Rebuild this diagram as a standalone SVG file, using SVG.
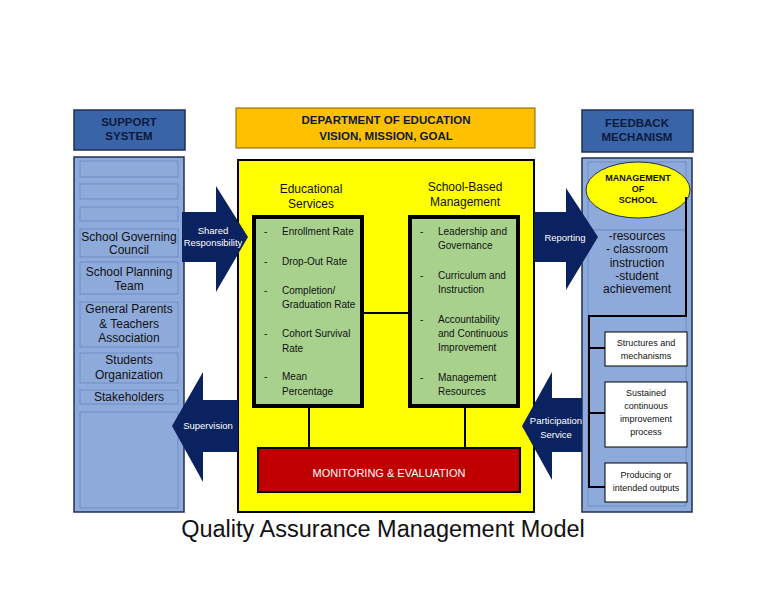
<svg xmlns="http://www.w3.org/2000/svg" width="768" height="594" viewBox="0 0 768 594">
<style>
text{font-family:"Liberation Sans",Arial,sans-serif}
.hdr{fill:#3a64a8;stroke:#1f2f55;stroke-width:1.5}
.hdt{font-weight:bold;font-size:11.5px;fill:#0b1a3c;text-anchor:middle}
.pan{fill:#8eaadb;stroke:#1f2f55;stroke-width:1.5}
.row{fill:#8eaadb;stroke:#6f8dc4;stroke-width:1}
.rt{font-size:12px;fill:#111;text-anchor:middle}
.arr{fill:#0b2260}
.at{font-size:9.5px;fill:#fff;text-anchor:middle}
.grn{fill:#a9d18e;stroke:#000;stroke-width:4}
.gt{font-size:10px;fill:#111}
.wb{fill:#fff;stroke:#000;stroke-width:1}
.wt{font-size:9px;fill:#111;text-anchor:middle}
.ln{stroke:#000;stroke-width:2;fill:none}
</style>
<rect width="768" height="594" fill="#fff"/>
<g id="support">
<rect class="hdr" x="74" y="110" width="111" height="40"/>
<text class="hdt" x="129" y="126">SUPPORT</text><text class="hdt" x="129" y="140">SYSTEM</text>
<rect class="pan" x="74" y="157" width="110" height="355"/>
<rect class="row" x="80" y="161" width="98" height="16"/>
<rect class="row" x="80" y="184" width="98" height="15"/>
<rect class="row" x="80" y="207" width="98" height="14"/>
<rect class="row" x="80" y="229" width="98" height="28"/>
<text class="rt" x="129" y="241">School Governing</text><text class="rt" x="129" y="254">Council</text>
<rect class="row" x="80" y="262" width="98" height="32"/>
<text class="rt" x="129" y="276">School Planning</text><text class="rt" x="129" y="290">Team</text>
<rect class="row" x="80" y="302" width="98" height="45"/>
<text class="rt" x="129" y="313">General Parents</text><text class="rt" x="129" y="328">&amp; Teachers</text><text class="rt" x="129" y="342">Association</text>
<rect class="row" x="80" y="353" width="98" height="30"/>
<text class="rt" x="129" y="364">Students</text><text class="rt" x="129" y="379">Organization</text>
<rect class="row" x="80" y="390" width="98" height="14"/>
<text class="rt" x="129" y="401">Stakeholders</text>
<rect class="row" x="80" y="412" width="98" height="96"/>
</g>
<g id="doe">
<rect x="236" y="108" width="299" height="40" fill="#ffc000" stroke="#7f6000" stroke-width="1"/>
<text class="hdt" x="386" y="124" font-size="12">DEPARTMENT OF EDUCATION</text>
<text class="hdt" x="386" y="140" font-size="12">VISION, MISSION, GOAL</text>
</g>
<g id="center">
<rect x="238" y="160" width="296" height="352" fill="#ffff00" stroke="#000" stroke-width="2"/>
<text x="311" y="193" font-size="12" text-anchor="middle" fill="#111">Educational</text>
<text x="311" y="208" font-size="12" text-anchor="middle" fill="#111">Services</text>
<text x="465" y="191" font-size="12" text-anchor="middle" fill="#111">School-Based</text>
<text x="465" y="206" font-size="12" text-anchor="middle" fill="#111">Management</text>
</g>
<g id="feedback">
<rect class="hdr" x="582" y="110" width="111" height="42"/>
<text class="hdt" x="637" y="127">FEEDBACK</text><text class="hdt" x="637" y="141">MECHANISM</text>
<rect class="pan" x="582" y="158" width="110" height="354"/>
<rect class="row" x="588" y="162" width="98" height="68"/>
<rect class="row" x="588" y="230" width="98" height="276"/>
<ellipse cx="638" cy="190" rx="52" ry="28" fill="#ffff00" stroke="#1f2f55" stroke-width="1"/>
<text class="wt" x="638" y="181" font-size="8" font-weight="bold">MANAGEMENT</text>
<text class="wt" x="638" y="192" font-size="8" font-weight="bold">OF</text>
<text class="wt" x="638" y="203" font-size="8" font-weight="bold">SCHOOL</text>
<g class="rt"><text x="637" y="240">-resources</text><text x="637" y="253">- classroom</text><text x="637" y="267">instruction</text><text x="637" y="280">-student</text><text x="637" y="293">achievement</text></g>
</g>
<g id="connectors">
<line class="ln" x1="362" y1="313" x2="410" y2="313" stroke-width="4"/>
<line class="ln" x1="309" y1="406" x2="309" y2="448"/>
<line class="ln" x1="465" y1="406" x2="465" y2="448"/>
<polyline class="ln" points="686,197 686,316 589,316 589,488"/>
<line class="ln" x1="589" y1="348" x2="605" y2="348"/>
<line class="ln" x1="589" y1="413" x2="605" y2="413"/>
<line class="ln" x1="589" y1="487" x2="605" y2="487"/>
</g>
<g id="structures">
<rect class="wb" x="605" y="332" width="82" height="34"/>
<text class="wt" x="646" y="346">Structures and</text><text class="wt" x="646" y="359">mechanisms</text>
</g>
<g id="sustained">
<rect class="wb" x="605" y="382" width="82" height="65"/>
<text class="wt" x="646" y="396">Sustained</text><text class="wt" x="646" y="409">continuous</text><text class="wt" x="646" y="422">improvement</text><text class="wt" x="646" y="435">process</text>
</g>
<g id="producing">
<rect class="wb" x="605" y="463" width="82" height="39"/>
<text class="wt" x="646" y="478">Producing or</text><text class="wt" x="646" y="491">intended outputs</text>
</g>
<g id="educational-services">
<rect class="grn" x="254" y="217" width="108" height="189"/>
<g class="gt"><text x="264" y="235">-</text><text x="282" y="235">Enrollment Rate</text>
<text x="264" y="265">-</text><text x="282" y="265">Drop-Out Rate</text>
<text x="264" y="294">-</text><text x="282" y="294">Completion/</text><text x="282" y="308">Graduation Rate</text>
<text x="264" y="337">-</text><text x="282" y="337">Cohort Survival</text><text x="282" y="352">Rate</text>
<text x="264" y="380">-</text><text x="282" y="380">Mean</text><text x="282" y="395">Percentage</text></g>
</g>
<g id="school-based-management">
<rect class="grn" x="410" y="217" width="108" height="189"/>
<g class="gt"><text x="420" y="235">-</text><text x="438" y="235">Leadership and</text><text x="438" y="249">Governance</text>
<text x="420" y="279">-</text><text x="438" y="279">Curriculum and</text><text x="438" y="293">Instruction</text>
<text x="420" y="323">-</text><text x="438" y="323">Accountability</text><text x="438" y="337">and Continuous</text><text x="438" y="351">Improvement</text>
<text x="420" y="381">-</text><text x="438" y="381">Management</text><text x="438" y="395">Resources</text></g>
</g>
<g id="monitoring">
<rect x="258" y="448" width="262" height="44" fill="#c00000" stroke="#000" stroke-width="2"/>
<text x="389" y="477" font-size="11" fill="#fff" text-anchor="middle">MONITORING &amp; EVALUATION</text>
</g>
<g id="shared">
<polygon class="arr" points="182,212 216,212 216,186 248,237 216,292 216,262 182,262"/>
<text class="at" x="213" y="234">Shared</text><text class="at" x="213" y="246">Responsibility</text>
</g>
<g id="supervision">
<polygon class="arr" points="238,400 203,400 203,372 172,426 203,482 203,452 238,452"/>
<text class="at" x="208" y="429">Supervision</text>
</g>
<g id="reporting">
<polygon class="arr" points="534,212 566,212 566,188 598,237 566,290 566,262 534,262"/>
<text class="at" x="565" y="241">Reporting</text>
</g>
<g id="participation">
<polygon class="arr" points="582,398 552,398 552,372 522,426 552,480 552,452 582,452"/>
<text class="at" x="556" y="424">Participation</text><text class="at" x="556" y="438">Service</text>
</g>
<text x="383" y="537" font-size="23.5" text-anchor="middle" fill="#111">Quality Assurance Management Model</text>
</svg>
